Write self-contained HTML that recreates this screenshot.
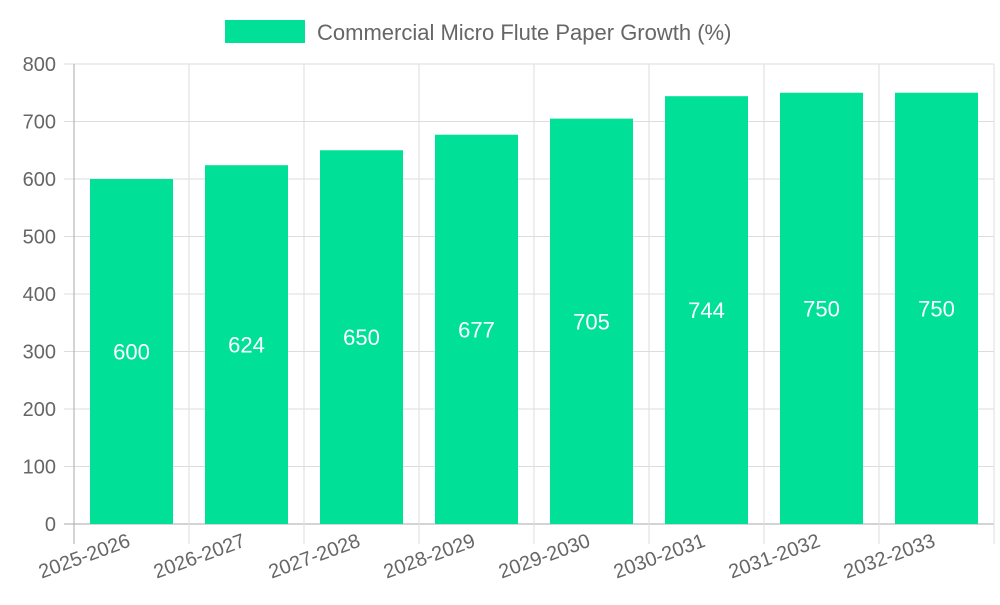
<!DOCTYPE html>
<html><head><meta charset="utf-8"><style>
body{margin:0;background:#fff;}
svg text{font-family:"Liberation Sans",sans-serif;}
</style></head><body>
<svg id="chart" width="1000" height="600"></svg>
<script>
const categories=["2025-2026","2026-2027","2027-2028","2028-2029","2029-2030","2030-2031","2031-2032","2032-2033"];
const values=[600,624,650,677,705,744,750,750];
const yTicks=[0,100,200,300,400,500,600,700,800];
const seriesName="Commercial Micro Flute Paper Growth (%)";
const NS="http://www.w3.org/2000/svg";
const svg=document.getElementById('chart');
const L=74,R=994,T=64,B=524,yMax=800;
const bw=(R-L)/categories.length;
const y=v=>B-(v/yMax)*(B-T);
const x=i=>L+i*bw;
function mk(tag,attrs,parent){const e=document.createElementNS(NS,tag);for(const k in attrs)e.setAttribute(k,attrs[k]);(parent||svg).appendChild(e);return e;}
// legend
const lg=mk('g',{});


const sw=mk('rect',{x:225,y:20,width:80,height:23,fill:'#00e096'},lg);


const lt=mk('text',{x:317,y:40,'font-size':22,fill:'#666'},lg);


lt.textContent=seriesName;
// y grid and ticks
yTicks.forEach(t=>{
  const g=mk('line',{x1:L-10,x2:R,y1:y(t),y2:y(t),stroke:t===0?'#aaa':'#ddd','stroke-width':1});
  
  
  const tx=mk('text',{x:L-18,y:y(t)+7,'text-anchor':'end','font-size':20,fill:'#666'});
  
  
  tx.textContent=t;
});
// x grid
for(let i=0;i<=categories.length;i++){
  const g=mk('line',{x1:x(i),x2:x(i),y1:T,y2:B+20,stroke:i===0?'#aaa':'#ddd','stroke-width':1});
  
  
}
// bars
categories.forEach((c,i)=>{
  const cx=x(i)+bw/2, w=83;
  const r=mk('rect',{x:cx-w/2,y:y(values[i]),width:w,height:B-y(values[i]),fill:'#00e096'});
  
  
  const v=mk('text',{x:cx,y:(y(values[i])+B)/2+8,'text-anchor':'middle','font-size':22,fill:'#fff'});
  
  
  v.textContent=values[i];
  const xl=mk('text',{x:cx,y:B+22,'text-anchor':'end','font-size':20,fill:'#666',transform:`rotate(-20 ${cx} ${B+22})`});
  
  
  xl.textContent=c;
});
// axis line
const ax=mk('line',{x1:L,x2:L,y1:T,y2:B+20,stroke:'#aaa','stroke-width':1});


</script>
</body></html>
